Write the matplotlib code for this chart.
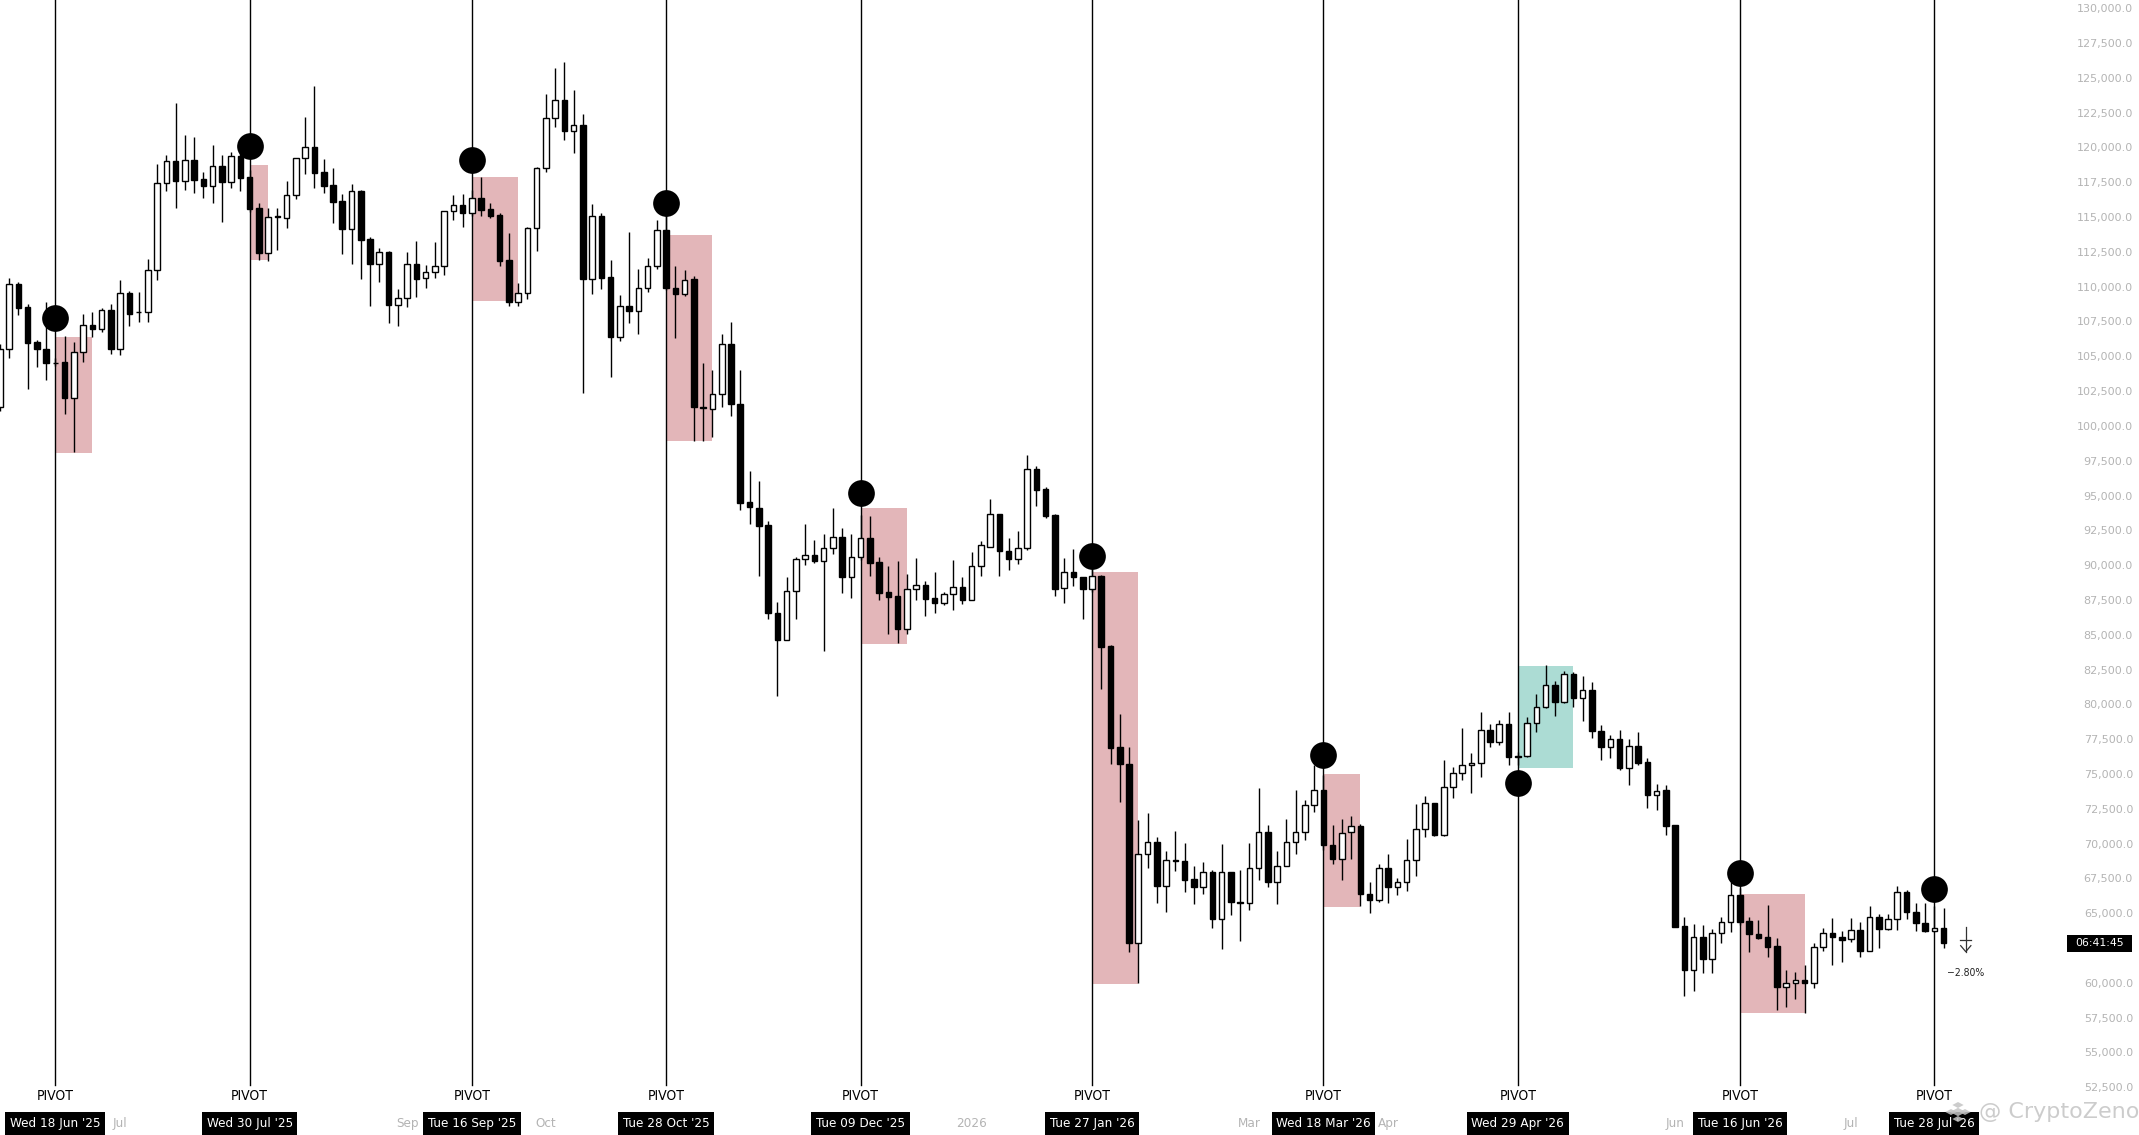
import numpy as np
import matplotlib
matplotlib.use("Agg")
import matplotlib.pyplot as plt
from matplotlib.patches import Rectangle, RegularPolygon
from matplotlib import transforms

# ---------------- data (2-day candles, index 0 = Wed 18 Jun '25) ----------------
bar_index = list(range(-6, 205))

opens = [
    101380, 105500, 110170, 108540, 106000, 105500,
    104550, 104570, 102030, 105290, 107230, 106940, 108300, 105550, 109520, 108150,
    108160, 111180, 117420, 119000, 117610, 119080, 117710, 117250, 118650, 117500,
    119360, 117880, 115650, 112440, 115040, 114910, 116560, 119220, 120050, 118210,
    117300, 116150, 114160, 116850, 113420, 111650, 112490, 108710, 109160, 111610,
    110590, 111020, 111490, 115410, 115880, 115260, 116350, 115580, 115130, 111920,
    108870, 109520, 114200, 118520, 122140, 123390, 121210, 121580, 110520, 115040,
    110680, 106350, 108590, 108220, 109930, 111520, 114070, 109930, 109500, 110520,
    101370, 101240, 102270, 105910, 101550, 94540, 94140, 92890, 86540, 84640,
    88160, 90430, 90740, 90280, 91210, 92000, 89130, 90560, 91930, 90200,
    88050, 87780, 85440, 88270, 88550, 87620, 87260, 87910, 88430, 87520,
    89920, 91280, 93650, 91000, 90420, 91210, 96880, 95450, 93580, 88340,
    89490, 89130, 88270, 89220, 84190, 76920, 75700, 62840, 69230, 70100,
    66980, 68820, 68750, 67460, 66910, 67940, 64570, 67940, 65810, 65710,
    68230, 70810, 67220, 68370, 70100, 70860, 72750, 73830, 69880, 68870,
    70810, 71240, 66360, 65950, 68230, 66860, 67220, 68800, 71030, 72900,
    70620, 74070, 75050, 75630, 75770, 78140, 77320, 78570, 76290, 76270,
    78640, 79790, 81370, 80150, 82160, 80440, 81010, 78070, 76920, 77490,
    75450, 76990, 75840, 73510, 73830, 71340, 64060, 60950, 63270, 61690,
    63560, 64350, 66290, 64420, 63510, 63270, 62650, 59720, 59970, 60180,
    59970, 62550, 63560, 63290, 63130, 63770, 62270, 64710, 63850, 64610,
    66500, 65070, 64280, 63700, 63920,
]
highs = [
    105860, 110600, 110310, 108730, 106170, 108880,
    104880, 106460, 106000, 108020, 108160, 108450, 108730, 110480, 109690, 109600,
    111970, 118810, 119440, 123190, 120890, 120730, 118240, 120180, 119460, 119690,
    119690, 118380, 115990, 115650, 115650, 117590, 119220, 122190, 124410, 119170,
    118500, 116630, 117350, 116940, 113550, 112760, 112560, 109830, 112490, 113260,
    111590, 113230, 115410, 116600, 116660, 116940, 117880, 116040, 115260, 113850,
    110240, 114320, 118600, 123820, 125690, 126130, 124130, 122420, 115940, 115320,
    111920, 109400, 113920, 111270, 112050, 114790, 115150, 111520, 111200, 110740,
    104510, 104040, 106600, 107470, 103980, 96730, 96040, 93140, 87380, 89160,
    90560, 92980, 91830, 92210, 94080, 92650, 92220, 93600, 93530, 90560,
    89940, 90280, 89340, 90510, 88840, 89490, 88050, 90350, 89150, 90940,
    91730, 94730, 93650, 91930, 92450, 97910, 97120, 95590, 93670, 90490,
    91140, 89130, 89720, 89310, 84240, 79330, 76940, 71700, 72180, 70500,
    69470, 70910, 70040, 68390, 68680, 68130, 69990, 67940, 68130, 70040,
    73990, 71340, 69470, 71770, 73850, 73130, 75650, 74930, 71340, 71750,
    71960, 71390, 67220, 68520, 69230, 67510, 70330, 72850, 73420, 72900,
    76010, 75500, 78300, 76510, 79450, 78590, 78880, 79450, 76580, 79070,
    80720, 82830, 81660, 82380, 82300, 82040, 81590, 78520, 77780, 78160,
    77490, 78020, 76130, 74260, 74190, 71340, 64750, 64210, 64130, 63890,
    64730, 67220, 66810, 64750, 64510, 65590, 63200, 60920, 60760, 61260,
    62840, 63920, 64640, 63720, 64640, 64350, 65520, 64920, 64920, 66930,
    66650, 65760, 65710, 65520, 65350,
]
lows = [
    101070, 104900, 107970, 102650, 104250, 103300,
    104300, 100830, 98150, 104610, 106360, 106770, 105190, 105070, 107200, 107440,
    107440, 110460, 116890, 115670, 116940, 116750, 116390, 116030, 114670, 117110,
    116890, 115360, 111920, 111870, 112630, 114240, 116320, 118070, 117110, 116750,
    114590, 112330, 111650, 110530, 108630, 110360, 107370, 107200, 108560, 109280,
    109910, 110590, 110870, 114760, 114320, 115080, 115040, 114930, 111460, 108590,
    108590, 109120, 112550, 118210, 121490, 120520, 119590, 102330, 109500, 109800,
    103480, 106070, 107410, 106570, 109650, 111270, 109760, 106290, 109340, 98900,
    98900, 99220, 101390, 100740, 93980, 92930, 89250, 86130, 80620, 84640,
    86130, 90030, 90120, 83800, 90820, 88020, 87660, 90370, 89240, 87520,
    85080, 84430, 85080, 87520, 86370, 86590, 87140, 86800, 87230, 87520,
    89240, 91280, 89240, 89670, 90100, 91070, 94270, 93390, 87810, 87260,
    88520, 86110, 88070, 81080, 75700, 72970, 62240, 59970, 68270, 65710,
    65110, 68030, 66550, 65640, 66380, 63920, 62450, 64870, 63030, 65230,
    67410, 66910, 65640, 68370, 69230, 70280, 72250, 69540, 68560, 67370,
    68870, 65520, 65000, 65830, 65710, 66290, 66600, 67700, 70450, 70530,
    70550, 73300, 74550, 73660, 74810, 76960, 77100, 75670, 75650, 76220,
    78040, 79740, 79140, 80100, 79830, 78790, 77610, 76010, 76130, 75310,
    74230, 75670, 72580, 72440, 70640, 64030, 59080, 59440, 60730, 60690,
    62840, 63670, 64160, 62240, 63150, 61880, 58050, 58290, 58840, 57810,
    59610, 62310, 61300, 61520, 62910, 61840, 62270, 62530, 63800, 63770,
    64610, 63700, 63630, 63650, 62480,
]
closes = [
    105500, 110170, 108490, 105980, 105500, 104500,
    104520, 102030, 105290, 107230, 106940, 108300, 105550, 109520, 108060, 108180,
    111180, 117420, 119000, 117610, 119080, 117680, 117250, 118650, 117500, 119360,
    117830, 115580, 112440, 115000, 114970, 116560, 119220, 120050, 118190, 117250,
    116100, 114160, 116850, 113370, 111650, 112470, 108710, 109160, 111610, 110570,
    111050, 111490, 115410, 115850, 115260, 116350, 115510, 115100, 111830, 108870,
    109520, 114200, 118520, 122140, 123390, 121210, 121580, 110520, 115040, 110640,
    106350, 108590, 108220, 109930, 111520, 114070, 109930, 109500, 110460, 101390,
    101300, 102270, 105910, 101550, 94480, 94170, 92830, 86540, 84640, 88160,
    90430, 90740, 90280, 91210, 92000, 89130, 90560, 91930, 90180, 88020,
    87730, 85440, 88270, 88550, 87590, 87260, 87910, 88430, 87520, 89920,
    91430, 93650, 91000, 90420, 91210, 96880, 95420, 93550, 88310, 89490,
    89130, 88270, 89220, 84140, 76890, 75700, 62840, 69230, 70100, 66980,
    68800, 68780, 67410, 66910, 67940, 64570, 67940, 65790, 65760, 68230,
    70810, 67220, 68370, 70100, 70860, 72750, 73830, 69880, 68870, 70780,
    71240, 66360, 65950, 68230, 66860, 67220, 68800, 71030, 72900, 70620,
    74050, 75050, 75630, 75770, 78140, 77320, 78570, 76240, 76250, 78640,
    79790, 81370, 80150, 82160, 80440, 81010, 78070, 76920, 77490, 75450,
    76990, 75810, 73510, 73800, 71290, 64030, 60950, 63270, 61690, 63560,
    64350, 66290, 64390, 63490, 63240, 62600, 59720, 59970, 60180, 59970,
    62550, 63560, 63270, 63100, 63770, 62270, 64710, 63850, 64610, 66500,
    65070, 64280, 63700, 63920, 62840,
]

pivot_index = [0, 21, 45, 66, 87, 112, 137, 158, 182, 203]
pivot_dates = ["Wed 18 Jun '25", "Wed 30 Jul '25", "Tue 16 Sep '25", "Tue 28 Oct '25",
               "Tue 09 Dec '25", "Tue 27 Jan '26", "Wed 18 Mar '26", "Wed 29 Apr '26",
               "Tue 16 Jun '26", "Tue 28 Jul '26"]
pivot_marker_price = [107730, 120130, 119090, 116010, 95160, 90660, 76370, 74330, 67870, 66720]

zone_start = [0, 21, 45, 66, 87, 112, 137, 158, 182]
zone_end = [4, 23, 50, 71, 92, 117, 141, 164, 189]
zone_top = [106410, 118740, 117880, 113700, 94100, 89510, 75000, 82760, 66380]
zone_bottom = [98080, 111920, 108970, 98910, 84360, 59920, 65470, 75430, 57860]
zone_kind = ["bear", "bear", "bear", "bear", "bear", "bear", "bear", "bull", "bear"]

month_index = [7, 38, 53, 99, 129, 144, 175, 194]
month_labels = ["Jul", "Sep", "Oct", "2026", "Mar", "Apr", "Jun", "Jul"]

price_ticks = [52500 + 2500 * k for k in range(32)]
hidden_tick = 62500          # covered by the countdown box in the reference
countdown_text = "06:41:45"
change_text = "\u22122.80%"
arrow_x = 206.4
arrow_top, arrow_bar, arrow_tip, change_y = 64010, 63080, 62240, 60710

# ---------------- figure ----------------
W, H = 2139, 1135
fig = plt.figure(figsize=(W / 100, H / 100), dpi=100, facecolor="white")
pane_right, pane_bottom = 2055, 1108
ax = fig.add_axes([0, (H - pane_bottom) / H, pane_right / W, pane_bottom / H])
ax.set_facecolor("white")
ax.set_xlim(-5.975, 216.04)
ax.set_ylim(51012, 130589)
for s in ax.spines.values():
    s.set_visible(False)
ax.set_xticks([])

cond = dict(family="DejaVu Sans", fontstretch="condensed")

# zones
for x0, x1, top, bot, kind in zip(zone_start, zone_end, zone_top, zone_bottom, zone_kind):
    col = "#e3b6b9" if kind == "bear" else "#acdcd4"
    ax.add_patch(Rectangle((x0, bot), x1 - x0, top - bot, facecolor=col,
                           edgecolor="none", zorder=0.5))

# pivot lines
line_stop = (pane_bottom - 1085) / pane_bottom
for p in pivot_index:
    ax.axvline(p, ymin=line_stop, ymax=1, color="black", lw=1.0, zorder=1)

# candles
xs = np.array(bar_index, dtype=float)
o = np.array(opens, float); h = np.array(highs, float)
l = np.array(lows, float); c = np.array(closes, float)
ax.vlines(xs, l, h, color="black", lw=1.0, zorder=2)
up = c >= o
body_bot = np.minimum(o, c)
body_h = np.maximum(np.abs(c - o), 1.0)
ax.bar(xs[up], body_h[up], bottom=body_bot[up], width=0.6, color="white",
       edgecolor="black", linewidth=1.0, zorder=3)
ax.bar(xs[~up], body_h[~up], bottom=body_bot[~up], width=0.6, color="black",
       edgecolor="black", linewidth=1.0, zorder=3)

# pivot markers
ax.scatter(pivot_index, pivot_marker_price, s=370, color="black", zorder=5, linewidths=0)

# price scale
ax.yaxis.tick_right()
ax.set_yticks(price_ticks)
ax.set_yticklabels(["" if v == hidden_tick else f"{v:,.1f}" for v in price_ticks])
ax.tick_params(axis="y", length=0, pad=(2133 - pane_right) * 0.72,
               labelcolor="#b4b4b4", labelsize=8)
for t in ax.get_yticklabels():
    t.set_horizontalalignment("right")

# countdown box on price scale
bt = transforms.blended_transform_factory(fig.transFigure, ax.transData)
px = 71.82
ax.add_patch(Rectangle((2067 / W, closes[-1] - 8.5 * px), 65 / W, 17 * px,
                       transform=bt, facecolor="black", edgecolor="none",
                       clip_on=False, zorder=10))
ax.text(2099.5 / W, closes[-1], countdown_text, transform=bt, color="white",
        fontsize=7.8, ha="center", va="center", clip_on=False, zorder=11)

# projected change marker
ax.plot([arrow_x, arrow_x], [arrow_top, arrow_tip], color="#333333", lw=0.9, zorder=4)
ax.plot([arrow_x - 0.6, arrow_x + 0.6], [arrow_bar, arrow_bar], color="#333333", lw=0.9, zorder=4)
ax.plot([arrow_x - 0.55, arrow_x, arrow_x + 0.55], [arrow_tip + 430, arrow_tip, arrow_tip + 430],
        color="#333333", lw=0.9, zorder=4)
ax.text(arrow_x, change_y, change_text, color="#222222", fontsize=7.5,
        ha="center", va="center", zorder=4, **cond)

# time axis labels
tt = transforms.blended_transform_factory(ax.transData, fig.transFigure)
for p, d in zip(pivot_index, pivot_dates):
    ax.text(p, 1 - 1095.5 / H, "PIVOT", transform=tt, ha="center", va="center",
            fontsize=10, color="black", clip_on=False, zorder=6, **cond)
    ax.text(p, 1 - 1123.5 / H, d, transform=tt, ha="center", va="center",
            fontsize=9.6, color="white", clip_on=False, zorder=7, **cond,
            bbox=dict(boxstyle="square,pad=0.34", facecolor="black", edgecolor="none"))
for m, lab in zip(month_index, month_labels):
    ax.text(m, 1 - 1123.5 / H, lab, transform=tt, ha="center", va="center",
            fontsize=9.6, color="#b4b4b4", clip_on=False, zorder=6, **cond)

# watermark (logo drawn as small diamonds, then the handle)
fig.text(2139 / W, 1 - 1112 / H, "@ CryptoZeno", ha="right", va="center",
         fontsize=16, color="#c4c4c4", alpha=0.85, zorder=20)
logo_cx, logo_cy = 1958, 1112
for dx, dy, r in [(0, 0, 4.2), (-7, 0, 3.0), (7, 0, 3.0), (0, -7, 3.0), (0, 7, 3.0)]:
    fig.patches.append(RegularPolygon(((logo_cx + dx) / W, 1 - (logo_cy + dy) / H), 4,
                                      radius=r / H, orientation=0,
                                      transform=fig.transFigure,
                                      facecolor="#c4c4c4", edgecolor="none",
                                      alpha=0.85, zorder=20))

fig.savefig("out.png", dpi=100, facecolor="white")
